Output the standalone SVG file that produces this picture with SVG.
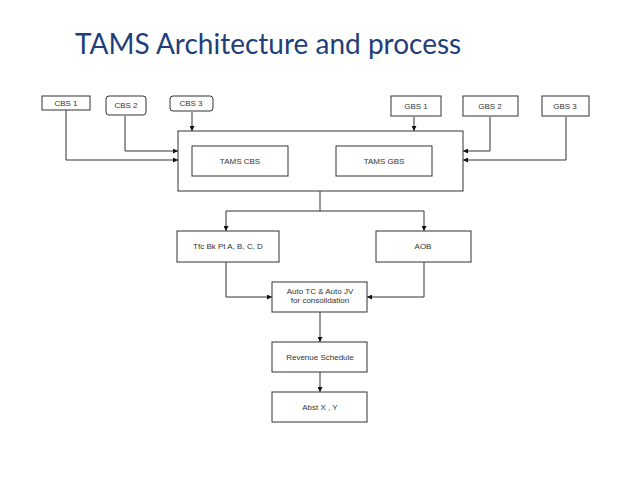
<svg xmlns="http://www.w3.org/2000/svg" width="638" height="478" viewBox="0 0 638 478">
<defs><marker id="a" viewBox="0 0 10 10" refX="10" refY="5" markerWidth="5" markerHeight="5" orient="auto"><path d="M0,0L10,5L0,10z" fill="#111"/></marker></defs>
<style>
rect{fill:#fff;stroke:#333;stroke-width:1}
.t{font-family:"Liberation Sans",Arial,sans-serif;font-size:8px;fill:#333;text-anchor:middle}
#c path{fill:none;stroke:#333;stroke-width:1;marker-end:url(#a)}
</style>
<rect x="0" y="0" width="638" height="478" style="stroke:none"/>
<text x="75" y="54" style="font-family:Lato,'Open Sans',sans-serif;font-size:28px;fill:#1f3f7a">TAMS Architecture and process</text>
<g id="c">
<path d="M66,110V160H178"/>
<path d="M125,116V151H178"/>
<path d="M192,112V131"/>
<path d="M414,117V131"/>
<path d="M490,117V151H463"/>
<path d="M566,117V160H463"/>
<path d="M320,191V211H226V231" />
<path d="M320,211H424V231"/>
<path d="M226,262V297H272"/>
<path d="M424,262V297H367"/>
<path d="M320,312V342"/>
<path d="M320,372V392"/>
</g>
<g id="cbs1"><rect x="42" y="96" width="48" height="14"/><text class="t" x="66" y="106">CBS 1</text></g>
<g id="cbs2"><rect x="106" y="96" width="40" height="19" rx="3"/><text class="t" x="126" y="108">CBS 2</text></g>
<g id="cbs3"><rect x="170" y="96" width="43" height="15" rx="3"/><text class="t" x="191" y="106">CBS 3</text></g>
<g id="gbs1"><rect x="391" y="96" width="50" height="20"/><text class="t" x="416" y="109">GBS 1</text></g>
<g id="gbs2"><rect x="463" y="96" width="55" height="20"/><text class="t" x="490" y="109">GBS 2</text></g>
<g id="gbs3"><rect x="542" y="96" width="47" height="20"/><text class="t" x="565" y="109">GBS 3</text></g>
<g id="tams"><rect x="178" y="131" width="285" height="60"/></g>
<g id="tcbs"><rect x="192" y="146" width="96" height="30"/><text class="t" x="240" y="164">TAMS CBS</text></g>
<g id="tgbs"><rect x="336" y="146" width="96" height="30"/><text class="t" x="384" y="164">TAMS GBS</text></g>
<g id="tfc"><rect x="177" y="231" width="102" height="31"/><text class="t" x="228" y="249">Tfc Bk Pt A, B, C, D</text></g>
<g id="aob"><rect x="376" y="231" width="95" height="31"/><text class="t" x="423" y="249">AOB</text></g>
<g id="auto"><rect x="272" y="282" width="95" height="30"/><text class="t" x="320" y="294">Auto TC &amp; Auto JV</text><text class="t" x="320" y="303">for consolidation</text></g>
<g id="rev"><rect x="272" y="342" width="95" height="30"/><text class="t" x="320" y="360">Revenue Schedule</text></g>
<g id="abst"><rect x="272" y="392" width="95" height="30"/><text class="t" x="320" y="410">Abst X , Y</text></g>
</svg>
